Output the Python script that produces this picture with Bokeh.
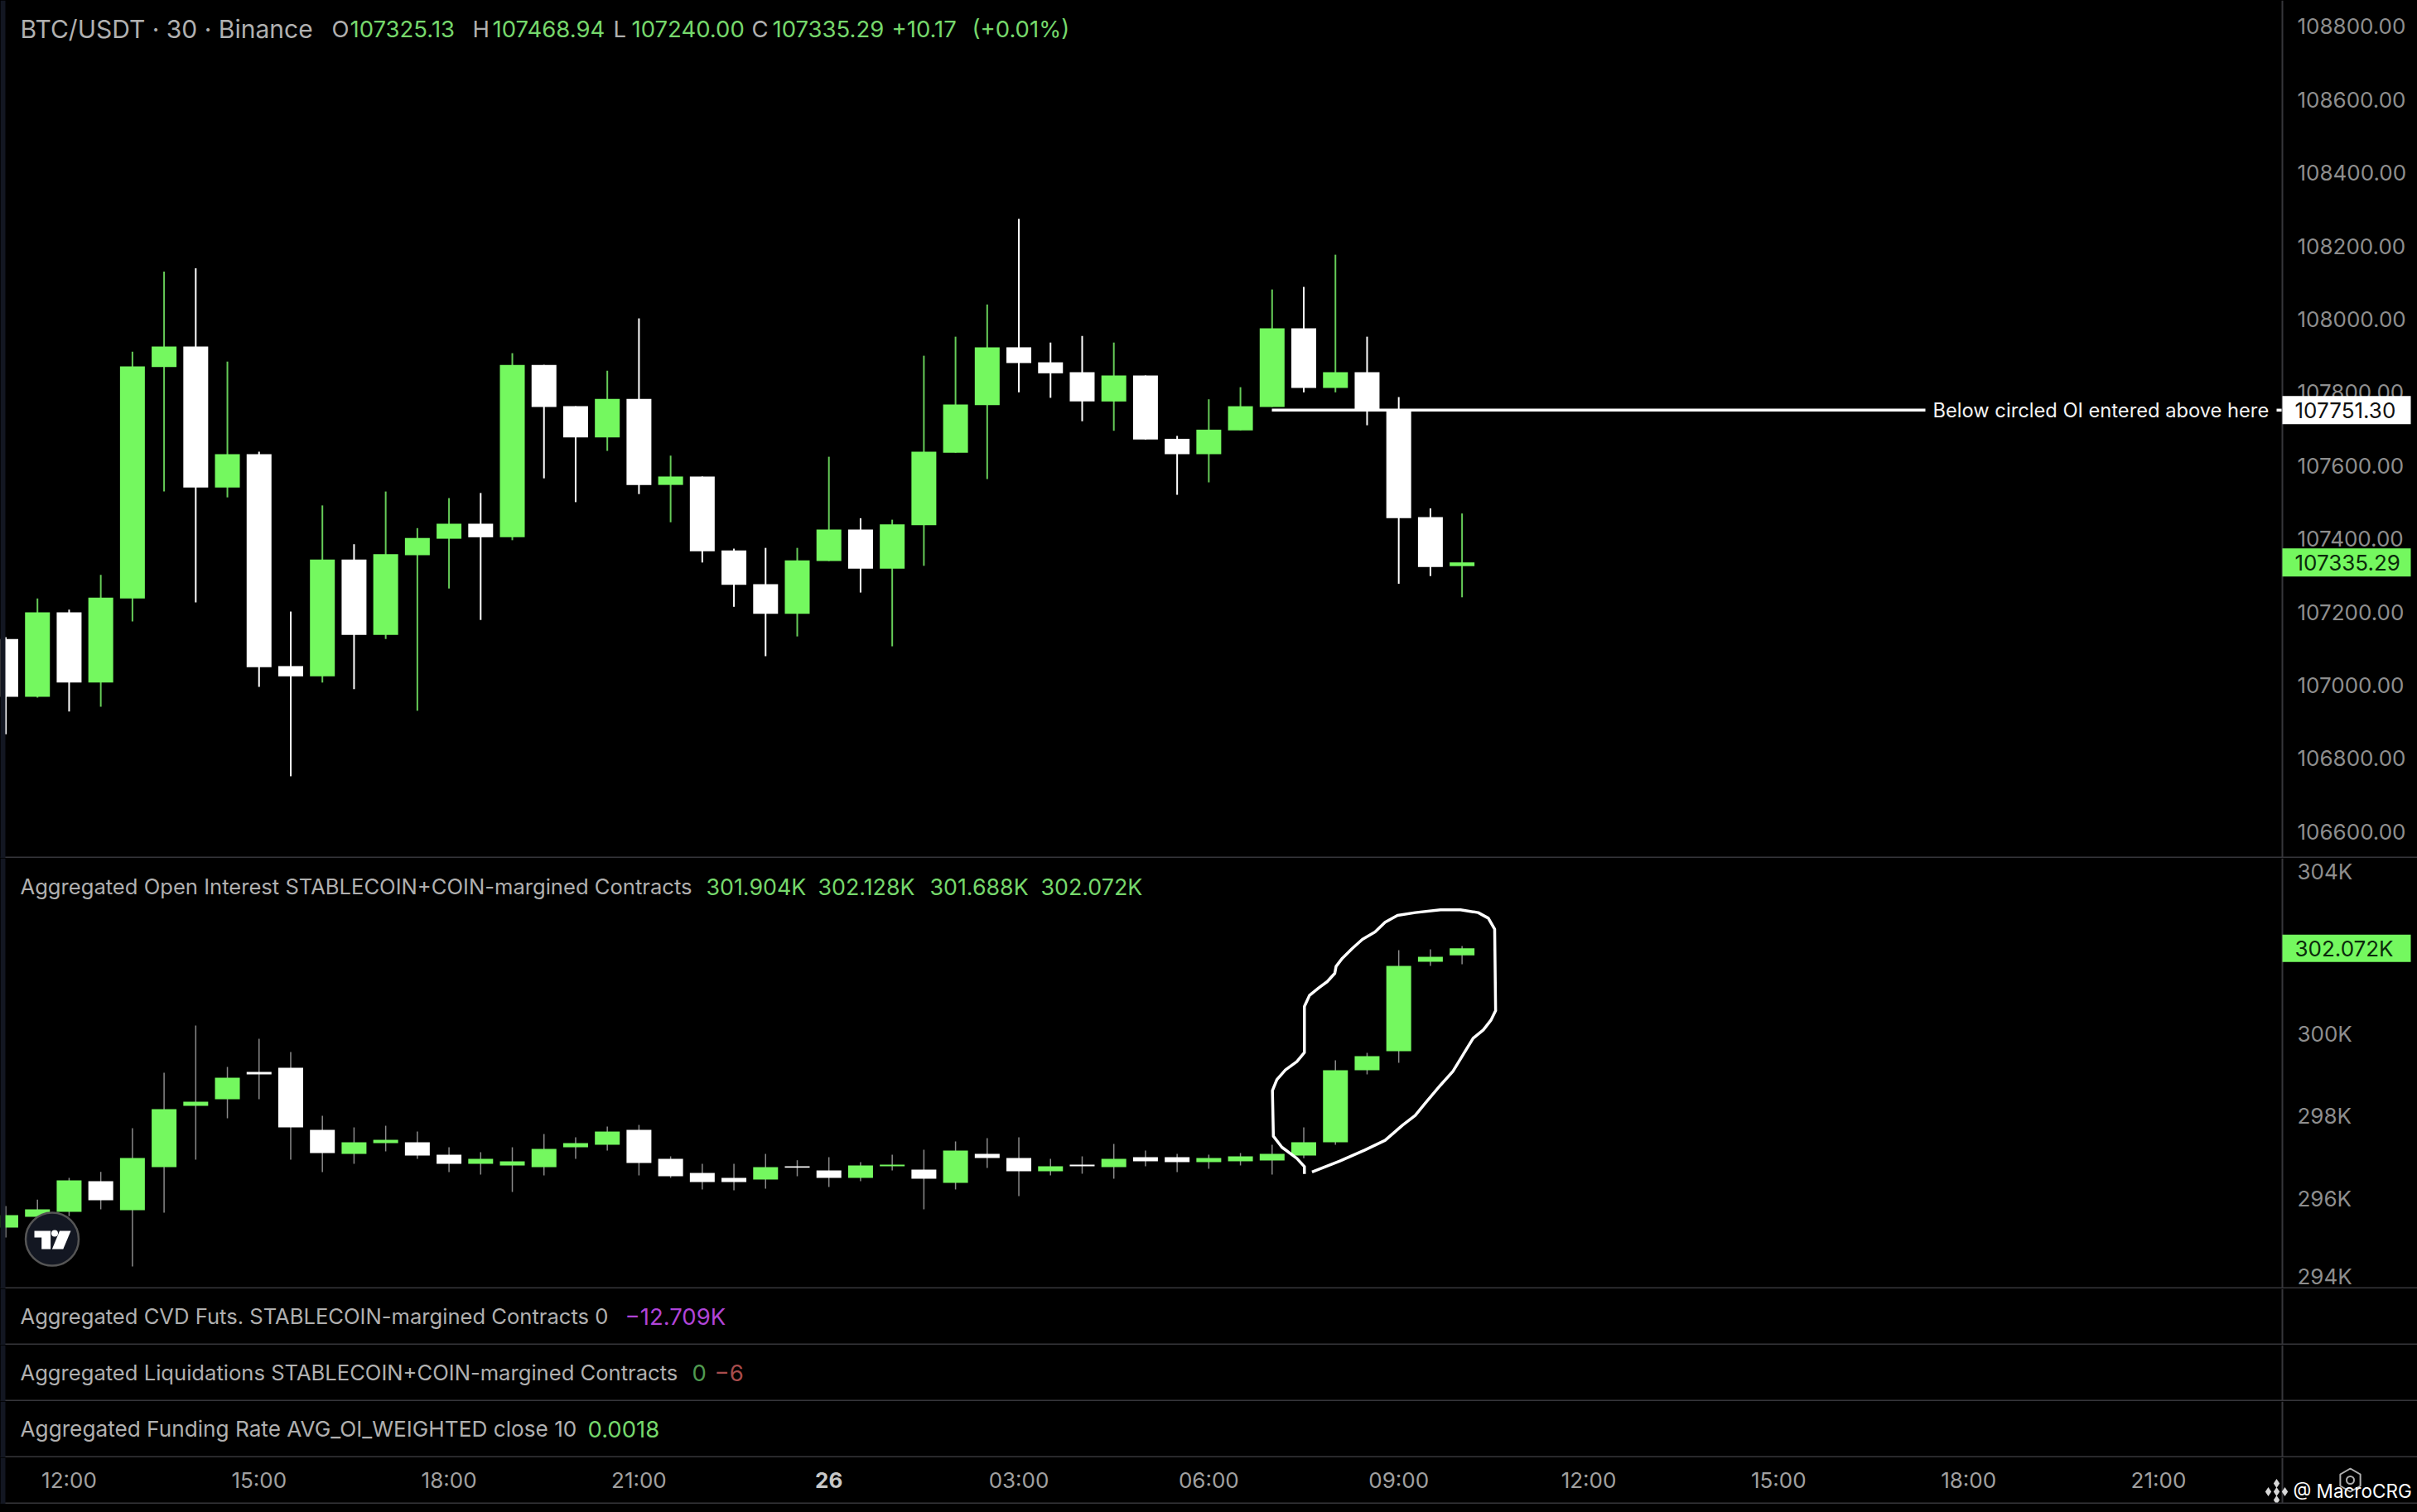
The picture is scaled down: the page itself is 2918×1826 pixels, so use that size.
from bokeh.plotting import figure
from bokeh.layouts import column
from bokeh.models import Range1d, LinearAxis, FixedTicker, NumeralTickFormatter, PrintfTickFormatter, Label, BoxAnnotation, Span
from bokeh.core.properties import value
from bokeh.embed import file_html
from bokeh.resources import INLINE

# ---------- price candles (BTC/USDT, 30 min) ----------
price_open = [107126,106968,107199,107007,107237,107869,107925,107540,107631,107052,107024,107343,107137,107355,107400,107441,
              107404,107875,107762,107677,107782,107547,107570,107368,107276,107195,107339,107425,107318,107437,107635,107765,
              107923,107882,107855,107775,107846,107673,107631,107696,107760,107975,107812,107855,107754,107459,107325.13]
price_high = [107131,107237,107206,107301,107911,108130,108139,107884,107638,107201,107491,107385,107529,107429,107511,107525,
              107907,107875,107762,107859,108002,107627,107570,107373,107375,107375,107624,107456,107452,107900,107952,108040,
              108274,107936,107954,107936,107846,107681,107781,107814,108081,108088,108176,107952,107787,107483,107468.94]
price_low = [106866,106966,106928,106941,107174,107529,107226,107513,106995,106751,107007,106989,107126,106930,107264,107178,
             107396,107565,107500,107640,107522,107445,107335,107214,107079,107133,107339,107253,107106,107326,107635,107563,
             107800,107785,107721,107695,107671,107520,107554,107696,107760,107800,107800,107710,107277,107298,107240.00]
price_close = [106968,107199,107007,107239,107871,107925,107540,107631,107049,107024,107343,107137,107358,107402,107441,107404,
               107875,107760,107677,107782,107547,107570,107366,107274,107195,107341,107425,107318,107439,107638,107767,107923,
               107880,107852,107775,107846,107671,107631,107698,107762,107975,107812,107855,107754,107456,107323,107335.29]

# ---------- aggregated open interest candles (thousands) ----------
oi_open = [295.287,295.549,295.670,296.414,295.710,296.756,298.245,298.406,299.070,299.171,297.662,297.078,297.340,297.360,297.058,296.837,
           296.796,296.756,297.239,297.300,297.662,296.958,296.615,296.495,296.455,296.777,296.676,296.495,296.777,296.696,296.374,297.079,
           296.978,296.656,296.817,296.757,296.998,296.998,296.878,296.898,296.918,297.038,297.361,299.111,299.574,301.747,301.904]
oi_high = [295.811,295.965,296.495,296.642,297.702,299.050,300.197,299.191,299.875,299.553,298.004,297.722,297.762,297.621,297.239,297.119,
           297.239,297.561,297.481,297.742,297.782,297.018,296.837,296.837,297.078,296.924,296.998,296.878,297.059,297.179,297.381,297.461,
           297.481,296.958,297.018,297.320,297.159,297.079,297.059,297.099,297.300,297.723,299.352,299.534,302.028,302.049,302.128]
oi_low = [295.046,295.462,295.562,295.730,294.342,295.650,296.937,297.943,298.406,296.937,296.636,296.837,297.139,296.958,296.636,296.575,
          296.153,296.555,296.958,297.159,296.555,296.495,296.213,296.193,296.233,296.535,296.274,296.415,296.676,295.731,296.214,296.737,
          296.053,296.556,296.596,296.475,296.777,296.636,296.717,296.797,296.576,296.971,297.300,299.010,299.292,301.646,301.688]
oi_close = [295.589,295.730,296.434,295.951,296.978,298.165,298.346,298.929,299.010,297.722,297.098,297.360,297.420,297.038,296.837,296.958,
            296.897,297.199,297.340,297.621,296.857,296.535,296.394,296.394,296.756,296.743,296.495,296.797,296.817,296.475,297.159,296.978,
            296.656,296.777,296.777,296.958,296.898,296.878,296.978,297.018,297.079,297.361,299.111,299.453,301.646,301.868,302.072]

# ---------- hand-drawn circle round the last OI candles (bar number, OI) ----------
loop_x = [41.02,41.02,40.78,40.31,40.04,40.01,40.15,40.42,40.78,41.02,41.02,41.18,41.47,41.74,41.98,42.02,42.22,42.53,42.85,43.25,43.57,
          43.96,44.52,45.32,45.95,46.51,46.83,47.03,47.06,46.91,46.67,46.35,46.03,45.71,45.32,44.84,44.52,44.12,43.57,42.93,42.14,41.26]
loop_y = [296.589,296.770,296.971,297.240,297.508,298.615,298.883,299.118,299.319,299.540,300.660,300.929,301.110,301.264,301.465,301.633,301.834,302.069,302.290,302.471,302.706,
          302.874,302.941,303.008,303.008,302.941,302.806,302.538,300.560,300.325,300.090,299.889,299.487,299.084,298.749,298.313,298.011,297.776,297.407,297.173,296.904,296.636]

# ---------- axes and labels ----------
price_ticks = [106600,106800,107000,107200,107400,107600,107800,108000,108200,108400,108600,108800]
oi_ticks = [294,296,298,300,302,304]
time_ticks = [2,8,14,20,26,32,38,44,50,56,62,68]
time_labels = ["12:00","15:00","18:00","21:00","","03:00","06:00","09:00","12:00","15:00","18:00","21:00"]
day_tick = 26
day_label = "26"
line_price = 107751.30
last_price = 107335.29
last_oi = 302.072
note_text = "Below circled OI entered above here"

GREEN = "#74F85F"
GREEN_TXT = "#76D86C"
GREY_TXT = "#B0B0B0"
AXIS_TXT = "#8E8E8E"
SEP = "#36363B"
STRIP = "#131722"
FONT = "Inter"
FS = "25.6px"
NUM = "27.5px"
AX = "26px"
W = 2918

def X(px):
    return (px - 6.5) / 38.22

X_RANGE = (X(0), X(W))
AXIS_X = X(2755)

def pane(h, y_range):
    p = figure(width=W, height=h, output_backend="svg", toolbar_location=None,
               x_range=Range1d(*X_RANGE), y_range=y_range,
               x_axis_location=None, y_axis_location=None,
               background_fill_color="#000000", border_fill_color="#000000",
               min_border=0, min_border_left=0, min_border_right=0, min_border_top=0, min_border_bottom=0)
    p.outline_line_color = None
    p.grid.visible = False
    return p

def finish(p, sep_location):
    p.add_layout(Span(location=sep_location, dimension="width", line_color=SEP, line_width=2))
    p.add_layout(BoxAnnotation(right=6, right_units="screen", fill_color=STRIP, fill_alpha=1, line_alpha=0, level="overlay"))

def legend(p, h, top, px, py, text, color, size=FS):
    p.add_layout(Label(x=px, y=h - (py - top), x_units="screen", y_units="screen", text=text, text_color=color,
                       text_font=FONT, text_font_size=size, text_align="left", text_baseline="middle"))

def candles(p, o, h, l, c, up_wick, down_wick, wick_w):
    xs = list(range(len(o)))
    body = [GREEN if cc >= oo else "#FFFFFF" for oo, cc in zip(o, c)]
    wick = [up_wick if cc >= oo else down_wick for oo, cc in zip(o, c)]
    p.segment(xs, h, xs, l, line_color=wick, line_width=wick_w)
    p.vbar(xs, width=0.785, top=[max(a, b) for a, b in zip(o, c)], bottom=[min(a, b) for a, b in zip(o, c)],
           fill_color=body, line_alpha=0)

def right_axis(p, ticks=None, fmt=None):
    ax = LinearAxis(ticker=FixedTicker(ticks=ticks or []), axis_line_color=SEP, axis_line_width=2,
                    major_tick_line_color=None, minor_tick_line_color=None,
                    major_label_text_color=AXIS_TXT, major_label_text_font=FONT, major_label_text_font_size=AX,
                    major_label_standoff=12)
    if fmt is not None:
        ax.formatter = fmt
    p.add_layout(ax, "right")
    ax.fixed_location = AXIS_X

def tag(p, y, half, text, fill, txt):
    p.quad(left=[AXIS_X], right=[X(2910)], top=[y + half], bottom=[y - half], fill_color=fill, line_alpha=0, level="overlay")
    p.text([X(2770)], [y], text=[text], text_color=txt, text_font=value(FONT), text_font_size=AX,
           text_align="left", text_baseline="middle", level="overlay")

# ---------- price pane: page y 0 .. 1036 ----------
PX_PER_USD = 0.442
def PRICE(py):
    return 107600 + (561.7 - py) / PX_PER_USD
pr = pane(1036, Range1d(PRICE(1036), PRICE(0)))
right_axis(pr, price_ticks, NumeralTickFormatter(format="0.00"))
candles(pr, price_open, price_high, price_low, price_close, "#66CC58", "#FFFFFF", 2)
pr.segment([X(1535), X(2748)], [line_price] * 2, [X(2324), AXIS_X], [line_price] * 2, line_color="#FFFFFF", line_width=3.5)
pr.text([X(2333)], [line_price], text=[note_text], text_color="#F2F2F2", text_font=value(FONT), text_font_size="23.7px",
        text_align="left", text_baseline="middle")
tag(pr, line_price, 17 / PX_PER_USD, "%.2f" % line_price, "#FFFFFF", "#111111")
tag(pr, last_price, 17 / PX_PER_USD, "%.2f" % last_price, GREEN, "#0B2A0B")
legend(pr, 1036, 0, 24, 34, "BTC/USDT · 30 · Binance", GREY_TXT, "30px")
for px, t, col in [(400, "O", GREY_TXT), (422, "107325.13", GREEN_TXT), (570, "H", GREY_TXT), (594, "107468.94", GREEN_TXT),
                   (740, "L", GREY_TXT), (762, "107240.00", GREEN_TXT), (907, "C", GREY_TXT), (932, "107335.29", GREEN_TXT),
                   (1076, "+10.17", GREEN_TXT), (1173, "(+0.01%)", GREEN_TXT)]:
    legend(pr, 1036, 0, px, 34, t, col, NUM)
finish(pr, PRICE(1035))

# ---------- open interest pane: page y 1036 .. 1556 ----------
PX_PER_K = 49.7
def OI(py):
    return 294 + (1546 - py) / PX_PER_K
oi = pane(520, Range1d(OI(1556), OI(1036)))
right_axis(oi, oi_ticks, PrintfTickFormatter(format="%dK"))
candles(oi, oi_open, oi_high, oi_low, oi_close, "#8A8A8A", "#8A8A8A", 1.5)
oi.line(loop_x, loop_y, line_color="#FFFFFF", line_width=3.5, line_join="round")
tag(oi, last_oi, 16.5 / PX_PER_K, "%.3fK" % last_oi, GREEN, "#0B2A0B")
oi.scatter([X(62.5)], [OI(1496)], size=64, fill_color=STRIP, line_color="#555555", line_width=2.5)
oi.patches([[X(v) for v in (41, 60.6, 60.6, 49.7, 49.7, 41)], [X(v) for v in (71.5, 85, 75.8, 62.4)]],
           [[OI(v) for v in (1486, 1486, 1508, 1508, 1494, 1494)], [OI(v) for v in (1486, 1486, 1508, 1508)]],
           fill_color="#FFFFFF", line_alpha=0)
oi.scatter([X(65.5)], [OI(1489)], size=8, fill_color="#FFFFFF", line_alpha=0)
legend(oi, 520, 1036, 24, 1070, "Aggregated Open Interest STABLECOIN+COIN-margined Contracts", GREY_TXT)
for px, t in [(852, "301.904K"), (987, "302.128K"), (1122, "301.688K"), (1256, "302.072K")]:
    legend(oi, 520, 1036, px, 1070, t, GREEN_TXT, "26.8px")
finish(oi, OI(1555))

# ---------- collapsed indicator panes ----------
def collapsed(top, texts):
    p = pane(68, Range1d(0, 68))
    right_axis(p)
    for px, py, t, col, size in texts:
        legend(p, 68, top, px, py, t, col, size)
    finish(p, 1)
    return p

cvd = collapsed(1556, [(24, 1589, "Aggregated CVD Futs. STABLECOIN-margined Contracts 0", GREY_TXT, FS), (754, 1589, "−12.709K", "#B044D8", NUM)])
liq = collapsed(1624, [(24, 1657, "Aggregated Liquidations STABLECOIN+COIN-margined Contracts", GREY_TXT, FS), (835, 1657, "0", "#4F9A50", NUM), (862, 1657, "−6", "#A84C4C", NUM)])
fund = collapsed(1692, [(24, 1725, "Aggregated Funding Rate AVG_OI_WEIGHTED close 10", GREY_TXT, "26.2px"), (709, 1725, "0.0018", GREEN_TXT, NUM)])

# ---------- time axis pane: y range in page pixels ----------
tm = pane(56, Range1d(1816, 1760))
tax = LinearAxis(ticker=FixedTicker(ticks=time_ticks), axis_line_color=None, major_tick_line_color=None, minor_tick_line_color=None,
                 major_label_text_color="#A0A0A0", major_label_text_font=FONT, major_label_text_font_size=AX,
                 major_label_standoff=5, major_label_overrides={t: l for t, l in zip(time_ticks, time_labels)})
tm.add_layout(tax, "below")
tax.fixed_location = 1760
tm.segment([AXIS_X], [1760], [AXIS_X], [1815], line_color=SEP, line_width=2)
tm.add_layout(Label(x=day_tick, y=1787, text=day_label, text_color="#C8C8C8", text_font=FONT, text_font_size=AX,
                    text_font_style="bold", text_align="center", text_baseline="middle"))
tm.scatter([X(2837)], [1787], marker="hex", size=28, fill_alpha=0, line_color="#B0B0B0", line_width=2, angle=1.5708)
tm.scatter([X(2837)], [1787], size=9, fill_alpha=0, line_color="#B0B0B0", line_width=2)
tm.scatter([X(v) for v in (2748, 2738, 2758, 2748, 2748)], [1791, 1801, 1801, 1811, 1801], marker="diamond", size=11,
           fill_color="#D8D8D8", line_alpha=0)
legend(tm, 56, 1760, 2768, 1800, "@ MacroCRG", "#FFFFFF", "22.5px")
finish(tm, 1815)

# ---------- bottom margin ----------
end = pane(10, Range1d(0, 1))
end.segment([X(0)], [0], [X(0)], [0], line_alpha=0)

page = column(pr, oi, cvd, liq, fund, tm, end, spacing=0)

html = file_html(page, INLINE, title="BTC/USDT")
html = html.replace("</head>", "<style>html,body{margin:0;background:#000;overflow:hidden}</style></head>")
open("out.html", "w").write(html)
